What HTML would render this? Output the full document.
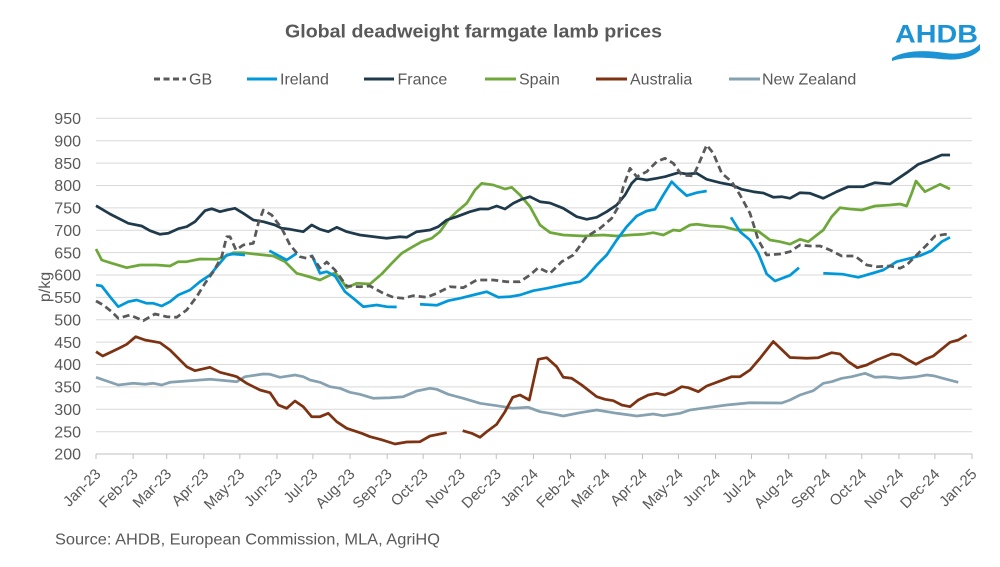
<!DOCTYPE html>
<html>
<head>
<meta charset="utf-8">
<style>
  html, body { margin: 0; padding: 0; background: #ffffff; }
  body { width: 1000px; height: 567px; overflow: hidden; }
  svg { display: block; }
  text { font-family: "Liberation Sans", Arial, sans-serif; fill: #595959; }
</style>
</head>
<body>
<svg width="1000" height="567" viewBox="0 0 1000 567" xmlns="http://www.w3.org/2000/svg">
  <rect x="0" y="0" width="1000" height="567" fill="#ffffff"/>

  <!-- Title -->
  <text x="285" y="37.5" font-size="18" font-weight="bold" textLength="377" lengthAdjust="spacingAndGlyphs">Global deadweight farmgate lamb prices</text>

  <!-- AHDB logo -->
  <text x="895" y="42.5" font-size="25" font-weight="bold" textLength="83" lengthAdjust="spacingAndGlyphs" style="fill:#1b93d5">AHDB</text>
  <path d="M892,58 C905,50 925,50 945,53 C960,55 972,52 980,44 L980,50 C972,58 958,61 940,59 C920,57 905,57 892,61 Z" fill="#1b93d5"/>

  <!-- Legend -->
  <g stroke-width="3" fill="none">
    <line x1="154" y1="79" x2="186" y2="79" stroke="#595959" stroke-dasharray="6,3.5"/>
    <line x1="247" y1="79" x2="277" y2="79" stroke="#0098da"/>
    <line x1="364" y1="79" x2="394" y2="79" stroke="#1e3a4b"/>
    <line x1="485" y1="79" x2="516" y2="79" stroke="#6fa83a"/>
    <line x1="596" y1="79" x2="627" y2="79" stroke="#7d3212"/>
    <line x1="729" y1="79" x2="760" y2="79" stroke="#86a1b0"/>
  </g>
  <g font-size="16">
    <text x="189" y="84.5">GB</text>
    <text x="280" y="84.5">Ireland</text>
    <text x="397.5" y="84.5">France</text>
    <text x="519" y="84.5">Spain</text>
    <text x="630" y="84.5">Australia</text>
    <text x="762" y="84.5">New Zealand</text>
  </g>

  <!-- Gridlines -->
  <g stroke="#d9d9d9" stroke-width="1">
    <line x1="96" y1="118.3" x2="972" y2="118.3"/>
    <line x1="96" y1="140.7" x2="972" y2="140.7"/>
    <line x1="96" y1="163.1" x2="972" y2="163.1"/>
    <line x1="96" y1="185.5" x2="972" y2="185.5"/>
    <line x1="96" y1="207.9" x2="972" y2="207.9"/>
    <line x1="96" y1="230.2" x2="972" y2="230.2"/>
    <line x1="96" y1="252.6" x2="972" y2="252.6"/>
    <line x1="96" y1="275.0" x2="972" y2="275.0"/>
    <line x1="96" y1="297.4" x2="972" y2="297.4"/>
    <line x1="96" y1="319.8" x2="972" y2="319.8"/>
    <line x1="96" y1="342.1" x2="972" y2="342.1"/>
    <line x1="96" y1="364.5" x2="972" y2="364.5"/>
    <line x1="96" y1="386.9" x2="972" y2="386.9"/>
    <line x1="96" y1="409.3" x2="972" y2="409.3"/>
    <line x1="96" y1="431.7" x2="972" y2="431.7"/>
  </g>

  <!-- Y tick labels -->
  <g font-size="16" text-anchor="end">
    <text x="81" y="124">950</text>
    <text x="81" y="146.4">900</text>
    <text x="81" y="168.8">850</text>
    <text x="81" y="191.2">800</text>
    <text x="81" y="213.6">750</text>
    <text x="81" y="235.9">700</text>
    <text x="81" y="258.3">650</text>
    <text x="81" y="280.7">600</text>
    <text x="81" y="303.1">550</text>
    <text x="81" y="325.5">500</text>
    <text x="81" y="347.8">450</text>
    <text x="81" y="370.2">400</text>
    <text x="81" y="392.6">350</text>
    <text x="81" y="415">300</text>
    <text x="81" y="437.4">250</text>
    <text x="81" y="459.7">200</text>
  </g>

  <!-- Y axis title -->
  <text transform="translate(50,287) rotate(-90)" font-size="16" text-anchor="middle">p/kg</text>

  <!-- X axis -->
  <g stroke="#bfbfbf" stroke-width="1">
    <line x1="96" y1="454" x2="972" y2="454"/>
    <line x1="96" y1="454" x2="96" y2="459"/>
    <line x1="133.15" y1="454" x2="133.15" y2="459"/>
    <line x1="166.71" y1="454" x2="166.71" y2="459"/>
    <line x1="203.86" y1="454" x2="203.86" y2="459"/>
    <line x1="239.81" y1="454" x2="239.81" y2="459"/>
    <line x1="276.96" y1="454" x2="276.96" y2="459"/>
    <line x1="312.91" y1="454" x2="312.91" y2="459"/>
    <line x1="350.06" y1="454" x2="350.06" y2="459"/>
    <line x1="387.21" y1="454" x2="387.21" y2="459"/>
    <line x1="423.16" y1="454" x2="423.16" y2="459"/>
    <line x1="460.31" y1="454" x2="460.31" y2="459"/>
    <line x1="496.27" y1="454" x2="496.27" y2="459"/>
    <line x1="533.42" y1="454" x2="533.42" y2="459"/>
    <line x1="570.57" y1="454" x2="570.57" y2="459"/>
    <line x1="605.32" y1="454" x2="605.32" y2="459"/>
    <line x1="642.47" y1="454" x2="642.47" y2="459"/>
    <line x1="678.42" y1="454" x2="678.42" y2="459"/>
    <line x1="715.57" y1="454" x2="715.57" y2="459"/>
    <line x1="751.52" y1="454" x2="751.52" y2="459"/>
    <line x1="788.67" y1="454" x2="788.67" y2="459"/>
    <line x1="825.83" y1="454" x2="825.83" y2="459"/>
    <line x1="861.78" y1="454" x2="861.78" y2="459"/>
    <line x1="898.93" y1="454" x2="898.93" y2="459"/>
    <line x1="934.88" y1="454" x2="934.88" y2="459"/>
    <line x1="972.03" y1="454" x2="972.03" y2="459"/>
  </g>

  <!-- X tick labels -->
  <g font-size="15" text-anchor="end">
    <text transform="translate(101.6,475) rotate(-45)">Jan-23</text>
    <text transform="translate(138.75,475) rotate(-45)">Feb-23</text>
    <text transform="translate(172.31,475) rotate(-45)">Mar-23</text>
    <text transform="translate(209.46,475) rotate(-45)">Apr-23</text>
    <text transform="translate(245.41,475) rotate(-45)">May-23</text>
    <text transform="translate(282.56,475) rotate(-45)">Jun-23</text>
    <text transform="translate(318.51,475) rotate(-45)">Jul-23</text>
    <text transform="translate(355.66,475) rotate(-45)">Aug-23</text>
    <text transform="translate(392.81,475) rotate(-45)">Sep-23</text>
    <text transform="translate(428.76,475) rotate(-45)">Oct-23</text>
    <text transform="translate(465.91,475) rotate(-45)">Nov-23</text>
    <text transform="translate(501.87,475) rotate(-45)">Dec-23</text>
    <text transform="translate(539.02,475) rotate(-45)">Jan-24</text>
    <text transform="translate(576.17,475) rotate(-45)">Feb-24</text>
    <text transform="translate(610.92,475) rotate(-45)">Mar-24</text>
    <text transform="translate(648.07,475) rotate(-45)">Apr-24</text>
    <text transform="translate(684.02,475) rotate(-45)">May-24</text>
    <text transform="translate(721.17,475) rotate(-45)">Jun-24</text>
    <text transform="translate(757.12,475) rotate(-45)">Jul-24</text>
    <text transform="translate(794.27,475) rotate(-45)">Aug-24</text>
    <text transform="translate(831.43,475) rotate(-45)">Sep-24</text>
    <text transform="translate(867.38,475) rotate(-45)">Oct-24</text>
    <text transform="translate(904.53,475) rotate(-45)">Nov-24</text>
    <text transform="translate(940.48,475) rotate(-45)">Dec-24</text>
    <text transform="translate(977.63,475) rotate(-45)">Jan-25</text>
  </g>

  <!-- Series -->
  <g fill="none" stroke-width="2.75" stroke-linejoin="round" stroke-linecap="butt">
    <!-- New Zealand -->
    <polyline stroke="#86a1b0" points="96,377.3 106.7,381 118.3,385 133.3,383.3 145,384.3 153.3,383.3 161.7,385 170,382.3 190,380.7 210,379.3 226.7,380.7 236.7,381.7 245,376.7 263.3,374 270,374.3 280,377.3 295,375 303.3,376.7 310,380 320,382.3 330,386.7 340,388.3 350,392.3 360,394.3 373.3,398.3 390,397.7 403.3,396.7 416.7,391 430,388.3 436.7,389.3 448.3,394.3 463.3,398.3 480,403.3 496.7,405.7 513.3,408.3 528.3,407.3 540,411.7 550,413.3 563.3,416 580,412.7 596.7,410 616.7,413.3 636.7,416 653.3,414 663.3,415.7 680,413.3 690,410 706.7,407.7 726.7,405 750,402.7 781.7,403 790,400 800,395 813.3,390.7 823.3,383.3 831.7,381.7 841.7,378.3 851.7,376.7 865,373.3 875,377.3 885,376.7 900,378.3 916.7,376.7 926.7,375 933.3,375.7 946.7,379.3 958.3,382.3"/>

    <!-- Australia -->
    <polyline stroke="#7d3212" points="96,351.7 102.7,356 111.7,351.7 120,347.7 126.7,344.3 135.7,336.7 145,340 160,342.7 170,350 186.7,366.7 195,370.7 210,367.3 220,372.3 233.3,375.7 236.7,376.7 246.7,383.3 260,390 270,392.7 278.3,405 286.7,408.3 295,401 303.3,406.7 311.7,416.7 320,416.7 328.3,413.3 336.7,421.7 346.7,428.3 361.7,433.3 370,436.7 380,439.3 395,444 406.7,442 420,441.7 430,436 446.7,432.7"/>
    <polyline stroke="#7d3212" points="462.7,430.7 471.7,433.3 480,437.3 486.7,431.7 496.7,424.3 505,411.7 512.7,397.3 520,395 529.3,400 538.3,359.3 546.7,357.7 556.7,366.7 563.3,377.3 571.7,378.3 581.7,385 596.7,396.7 605,399.3 613.3,400.7 621.7,405 630,406.7 638.3,400 648.3,395 656.7,393.3 665,395 673.3,391.7 681.7,386.7 688.3,387.7 698.3,391.7 706.7,386 718.3,381.7 731.7,376.7 740,376.7 750,370 760,358.3 773.3,341.5 790,357.5 806.7,358.3 818.3,357.7 831.7,352.7 840,354 848.3,361.7 857.3,367.7 866.7,365 876.7,360 891.7,354 900,355 908.3,360 916,364.3 925,359.3 933.3,356 942.7,348.3 950,342.3 958.3,340 966.7,335"/>

    <!-- Spain -->
    <polyline stroke="#6fa83a" points="96,249 101.7,260 110,262.7 126.7,267.7 140,265 156.7,265 170,266 178.3,261.7 186.7,261.7 200,259 216.7,259.3 223.3,257.3 233.3,252.7 243.3,252.7 256.7,254.3 273.3,256 285,261.7 296.7,273.3 306.7,276 320,280 335,272.7 340,278.3 346.7,287.7 356.7,283.3 370,284 381.7,274 391.7,263.3 401.7,253.3 411.7,247.3 421.7,241.7 431.7,238.3 440,231.7 448.3,220 456.7,211.7 466.7,203.3 475,190 481.7,183.3 493.3,185 505,189 511.7,187.3 520,195 530,206.7 540,225 550,232.5 563.3,235 583.3,236 603.3,235 616.7,236 630,235 643.3,234.3 653.3,232.7 663.3,235 673.3,230 680,230.7 690,225 696.7,224.3 710,226 723.3,226.7 736.7,230 750,230 758,231 770,240 780,241.7 790,244.2 800,239.3 808.3,241.7 823.3,230 831.7,216.7 840,207.7 850,209 861.7,210 875,206 890,205 900,204 906.7,206 911.7,193.3 916,181 925,191.7 940,184.3 950,189"/>

    <!-- France -->
    <polyline stroke="#1e3a4b" points="96,205.7 110,214 128.3,223.3 141.7,226 150,230.7 160,234.3 168.3,233.3 178.3,228.7 186.7,226.7 195,221.7 205,210.7 211.7,208.7 220,211.7 226.7,210 235,208.3 243.3,213.3 253.3,220 263.3,221.7 275,225 281.7,228.3 290,229.3 303.3,231.7 311.7,225 320,229.3 328.3,231.7 336.7,227.3 346.7,231.7 360,235 386.7,238.3 400,236.7 406.7,237.3 416.7,231.7 430,230 438.3,226.7 446.7,220 456.7,216.7 470,211.7 480,209 488.3,209 496.7,206 505,209 513.3,203.3 521.7,199.3 530,196.7 540,201.7 550,203 563.3,208.3 576.7,216.7 586.7,219.3 596.7,217.3 606.7,211.7 616.7,205 625,195 631.7,183.3 636.7,178.3 646.7,180 656.7,178.3 665,176.7 678.3,172.7 686.7,174 696.7,173.3 706.7,179.3 720,182.7 731.7,185 741.7,189.3 753.3,191.7 763.3,193 773.3,197.2 781.7,196.7 790,198.3 800,192.7 810,193.3 823.3,198.3 836.7,191.7 848.3,186.7 863.3,186.7 875,182.7 890,184 906.7,172.7 918.3,164.3 930,160 941.7,155 950,155"/>

    <!-- Ireland -->
    <polyline stroke="#0098da" points="96,285 101.7,286 110,296.7 118.3,306.7 128.3,301.7 136.7,300 146.7,303.3 153.3,303.3 161.7,306 170,301.7 178.3,295 190,290 200,281.7 210,275 218.3,265 226.7,255 233.3,254 245,255"/>
    <polyline stroke="#0098da" points="269.3,250.7 286.7,260 296.7,253.3"/>
    <polyline stroke="#0098da" points="311.7,255 320,273.3 326.7,271.7 335,276 345,291.7 353.3,298.3 363.3,306.7 376.7,305 386.7,306.7 396.7,307"/>
    <polyline stroke="#0098da" points="420,304.3 436.7,305.3 448.3,300.7 460,298.3 473.3,295 486.7,291.7 498.3,297.3 510,296.7 520,295 533.3,290.7 546.7,288.3 560,285.5 566.7,284 580,281.7 586.7,276.7 596.7,265 606.7,255 616.7,240 626.7,226.7 636.7,216 646.7,211 655,209.3 663.3,195 671.7,181.7 678.3,188.3 686.7,195.7 696.7,192.7 706.7,191"/>
    <polyline stroke="#0098da" points="731,217.3 740,231.7 750,240 758.3,253.3 766.7,274 775,281 790,275.3 799,267.7"/>
    <polyline stroke="#0098da" points="823.3,273.3 843.3,274.3 858.3,277.3 870,274 883.3,270 896.7,261.7 910,258.3 920,255.7 931.7,250.7 941.7,241.7 950,237.3"/>

    <!-- GB (dashed) -->
    <polyline stroke="#595959" stroke-dasharray="7,4" points="96,301 103.3,305 111.7,311.7 118.3,318.3 130,315 143.3,320.7 155,314 166.7,316.7 176.7,317.3 186.7,310 196.7,296.7 205,283.3 213.3,271.7 221.7,256.7 226.7,236.7 230,236.7 236,250 243.3,245 253.3,243.3 258.3,223.3 263.3,210 271.7,215 281.7,228.3 290,245 300,256.7 306.7,258.3 311.7,256 320,268 326.7,262 335,270 346.7,286 360,286.7 370,286 383.3,293.3 393.3,297.3 403.3,298.3 413.3,295.7 426.7,297.3 436.7,293.3 450,286.7 463.3,287.7 476.7,280 493.3,280 506.7,281.7 520,281.7 530,275 538.3,267.7 550,273.3 561.7,261.7 573.3,255 586.7,236.7 600,228.3 611.7,218.3 618.3,206.7 623.3,186.7 630,168.3 636.7,176.7 646.7,171.7 656.7,161.7 665,158.3 673.3,163.3 681.7,175 693.3,176 698.3,165 706.7,145 713.3,153.3 721.7,173.3 731.7,181.7 740,195 750,213.3 758.3,240 766.7,255 780,254 790,251.7 800,245 810,246 820,246 830,250 841.7,256 855,256 866.7,265 876.7,266.7 890,266 900,268.3 906.7,265 916.7,255 926.7,245 935,236 945,234.3 950,235.3"/>
  </g>

  <!-- Source -->
  <text x="55" y="544.5" font-size="15.5" textLength="385" lengthAdjust="spacingAndGlyphs">Source: AHDB, European Commission, MLA, AgriHQ</text>
</svg>
</body>
</html>
